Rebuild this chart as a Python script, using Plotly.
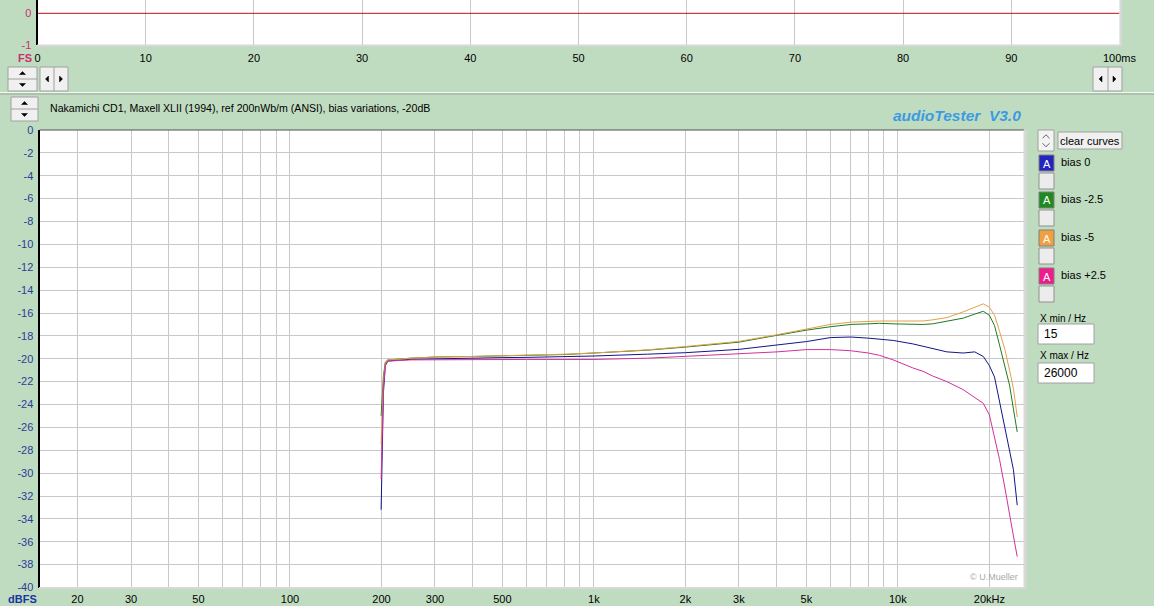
import math
import plotly.graph_objects as go

# ---------------- data ----------------
freq_hz = [199.5, 201, 203, 206, 210, 250, 300, 400, 500, 600, 700, 800, 1000, 1500,
           2000, 3000, 4000, 5000, 6000, 7000, 8000, 8700, 9650, 11200, 12100, 13000,
           14500, 16400, 17900, 19100, 20000, 20800, 21600, 22500, 23300, 24000, 24700]

bias_0 = [-33.2, -29.0, -23.0, -20.6, -20.2, -20.05, -20.0, -19.95, -19.9, -19.88, -19.85,
          -19.82, -19.76, -19.6, -19.47, -19.18, -18.8, -18.5, -18.15, -18.1, -18.2, -18.3,
          -18.4, -18.7, -18.9, -19.15, -19.4, -19.5, -19.4, -19.8, -20.6, -21.6, -23.8,
          -25.9, -27.9, -29.7, -32.8]

bias_m2_5 = [-25.0, -23.5, -21.5, -20.3, -20.1, -19.95, -19.85, -19.8, -19.75, -19.72, -19.68,
             -19.63, -19.5, -19.25, -18.98, -18.55, -17.95, -17.5, -17.2, -17.0, -16.95, -16.9,
             -16.95, -17.0, -17.0, -16.95, -16.7, -16.45, -16.1, -15.85, -16.2, -17.1, -18.8,
             -20.6, -22.3, -24.4, -26.4]

bias_m5 = [-27.5, -25.0, -22.0, -20.3, -20.1, -19.95, -19.85, -19.8, -19.75, -19.7, -19.65,
           -19.6, -19.5, -19.22, -18.93, -18.48, -17.9, -17.4, -17.0, -16.8, -16.7, -16.7,
           -16.7, -16.7, -16.7, -16.6, -16.4, -15.9, -15.5, -15.2, -15.5, -16.2, -17.6,
           -19.2, -21.0, -22.6, -25.1]

bias_p2_5 = [-30.5, -27.0, -22.5, -20.5, -20.2, -20.1, -20.08, -20.07, -20.06, -20.06, -20.06,
             -20.06, -20.06, -19.95, -19.8, -19.6, -19.4, -19.2, -19.2, -19.3, -19.5, -19.7,
             -20.1, -20.8, -21.1, -21.5, -22.0, -22.7, -23.4, -23.9, -24.9, -26.9, -28.8,
             -31.3, -33.7, -35.5, -37.3]

series_names = ["bias 0", "bias -2.5", "bias -5", "bias +2.5"]

grid_freqs = [20, 30, 40, 50, 60, 70, 80, 90, 100, 200, 300, 400, 500, 600, 700, 800, 900,
              1000, 2000, 3000, 4000, 5000, 6000, 7000, 8000, 9000, 10000, 20000]
grid_labels = ["20", "30", "", "50", "", "", "", "", "100", "200", "300", "", "500", "", "",
               "", "", "1k", "2k", "3k", "", "5k", "", "", "", "", "10k", "20kHz"]

db_ticks = list(range(0, -41, -2))
db_labels = [str(v) for v in db_ticks]

top_time_ms = [0, 100]
top_level = [0, 0]
top_ticks = [0, 10, 20, 30, 40, 50, 60, 70, 80, 90, 100]
top_labels = ["0", "10", "20", "30", "40", "50", "60", "70", "80", "90", "100ms"]

x_min_hz = 15
x_max_hz = 26000

# ---------------- layout helpers ----------------
W, H = 1154, 606
BG = "#c0dcc0"
FONT = "Liberation Sans"


def X(p):
    return p / W


def Y(p):
    return 1 - p / H


colors = ["#14148c", "#1f7a1f", "#e4a048", "#d2309a"]
box_colors = ["#2424c0", "#208a20", "#f0a040", "#ee1c8c"]

fig = go.Figure()
for name, vals, col in zip(series_names, [bias_0, bias_m2_5, bias_m5, bias_p2_5], colors):
    fig.add_trace(go.Scatter(x=freq_hz, y=vals, mode="lines", name=name,
                             line=dict(color=col, width=1), xaxis="x", yaxis="y",
                             showlegend=False, hoverinfo="skip"))

fig.add_trace(go.Scatter(x=top_time_ms, y=top_level, mode="lines",
                         line=dict(color="#c01010", width=1), xaxis="x2", yaxis="y2",
                         showlegend=False, hoverinfo="skip"))

shapes = []
annotations = []


def line(x0, y0, x1, y1, color, width=1):
    shapes.append(dict(type="line", xref="paper", yref="paper", x0=X(x0), y0=Y(y0),
                       x1=X(x1), y1=Y(y1), line=dict(color=color, width=width), layer="above"))


def rect(x0, y0, x1, y1, fill, border="#a0a0a0", width=1):
    shapes.append(dict(type="rect", xref="paper", yref="paper", x0=X(x0), y0=Y(y0),
                       x1=X(x1), y1=Y(y1), fillcolor=fill,
                       line=dict(color=border, width=width), layer="above"))


def tri(cx, cy, direction, s=3):
    if direction == "up":
        pts = [(cx - s, cy + s / 2), (cx + s, cy + s / 2), (cx, cy - s / 2)]
    elif direction == "down":
        pts = [(cx - s, cy - s / 2), (cx + s, cy - s / 2), (cx, cy + s / 2)]
    elif direction == "left":
        pts = [(cx + s / 2, cy - s), (cx + s / 2, cy + s), (cx - s / 2, cy)]
    else:
        pts = [(cx - s / 2, cy - s), (cx - s / 2, cy + s), (cx + s / 2, cy)]
    path = "M " + " L ".join(f"{X(a):.5f},{Y(b):.5f}" for a, b in pts) + " Z"
    shapes.append(dict(type="path", xref="paper", yref="paper", path=path,
                       fillcolor="#000000", line=dict(color="#000000", width=0.5), layer="above"))


def chevron(cx, cy, direction, s=3.5):
    d = -1 if direction == "up" else 1
    pts = [(cx - s, cy - d * s / 2), (cx, cy + d * s / 2), (cx + s, cy - d * s / 2)]
    path = "M " + " L ".join(f"{X(a):.5f},{Y(b):.5f}" for a, b in pts)
    shapes.append(dict(type="path", xref="paper", yref="paper", path=path,
                       line=dict(color="#606060", width=1), layer="above"))


def text(x, y, s, size=11, color="#000000", anchor="left", family=FONT):
    annotations.append(dict(xref="paper", yref="paper", x=X(x), y=Y(y), text=s,
                            showarrow=False, xanchor=anchor, yanchor="middle",
                            font=dict(family=family, size=size, color=color)))


# plot borders
line(39.5, 130, 1024, 130, "#505050", 1)
line(1025, 130, 1025, 588, "#d8d8d8", 3)
line(39, 588, 1026, 588, "#d8d8d8", 2)
line(37, 45.5, 1121, 45.5, "#d8d8d8", 2)
line(1121, 0, 1121, 46, "#d8d8d8", 2)

# separator
line(0, 92.5, W, 92.5, "#f4f8f4", 1)
line(0, 94, W, 94, "#98a898", 1)

# buttons
rect(8, 67, 37, 91, "#f0f0f0")
line(8, 79, 37, 79, "#a0a0a0")
tri(22.5, 73, "up")
tri(22.5, 85, "down")
rect(40, 67, 68, 91, "#f0f0f0")
line(54, 67, 54, 91, "#a0a0a0")
tri(47, 79, "left")
tri(61, 79, "right")
rect(1093, 67, 1122, 91, "#f0f0f0")
line(1108, 67, 1108, 91, "#a0a0a0")
tri(1100.5, 79, "left")
tri(1114.5, 79, "right")
rect(11, 97, 38, 121, "#f0f0f0")
line(11, 109, 38, 109, "#a0a0a0")
tri(24.5, 103, "up")
tri(24.5, 115, "down")

# curve panel on the right
rect(1038, 130, 1054, 151, "#f4f4f4")
chevron(1046, 136.5, "up")
chevron(1046, 145, "down")
rect(1058, 132, 1122, 149, "#f0f0f0")
text(1090, 140.5, "clear curves", 11, anchor="center")

box_tops = [155, 192, 230, 268]
for top, bc, name in zip(box_tops, box_colors, series_names):
    rect(1039, top, 1054, top + 16, bc, "#808080")
    text(1046.5, top + 8.5, "A", 11, "#ffffff", anchor="center")
    text(1059, top + 7, name, 11)
    rect(1039, top + 18, 1054, top + 34, "#ececec", "#909090")

text(1038, 318, "X min / Hz", 10)
rect(1038, 324, 1094, 344, "#ffffff", "#a0a0a0")
text(1042, 334, str(x_min_hz), 12)
text(1038, 355, "X max / Hz", 10)
rect(1038, 363, 1094, 383, "#ffffff", "#a0a0a0")
text(1042, 373, str(x_max_hz), 12)

# text labels
text(48, 108, "Nakamichi CD1, Maxell XLII (1994), ref 200nWb/m (ANSI), bias variations, -20dB", 10.6)
text(1023, 115, "<b><i>audioTester  V3.0</i></b>", 15.5, "#3c9be0", anchor="right")
text(25, 58, "<b>FS</b>", 11, "#c8306a", anchor="center")
text(22, 599, "<b>dBFS</b>", 11, "#1a34a0", anchor="center")
text(1020, 577, "© U.Mueller", 9, "#a8a8a8", anchor="right")

fig.update_layout(
    template="none",
    width=W, height=H, autosize=False,
    margin=dict(l=0, r=0, t=0, b=0, pad=0),
    paper_bgcolor=BG, plot_bgcolor="#ffffff",
    font=dict(family=FONT, size=11, color="#000000"),
    showlegend=False,
    shapes=shapes, annotations=annotations,
    xaxis=dict(type="log", range=[math.log10(x_min_hz), math.log10(x_max_hz)],
               domain=[X(39.5), X(1024)], anchor="y", automargin=False,
               tickmode="array", tickvals=grid_freqs, ticktext=grid_labels,
               showgrid=True, gridcolor="#c8c8c8", gridwidth=1, zeroline=False,
               ticks="outside", ticklen=1, tickcolor="rgba(0,0,0,0)",
               tickfont=dict(family=FONT, size=11, color="#000000"), showline=False),
    yaxis=dict(range=[-40, 0], domain=[Y(587.5), Y(130)], anchor="x", automargin=False,
               tickmode="array", tickvals=db_ticks, ticktext=db_labels,
               showgrid=True, gridcolor="#c8c8c8", gridwidth=1, zeroline=False,
               ticks="outside", ticklen=2, tickcolor="rgba(0,0,0,0)",
               tickfont=dict(family=FONT, size=11, color="#2a3c9c"),
               showline=True, linecolor="#000000", linewidth=2),
    xaxis2=dict(range=[0, 100], domain=[X(37.5), X(1119.5)], anchor="y2", automargin=False,
                tickmode="array", tickvals=top_ticks, ticktext=top_labels,
                showgrid=True, gridcolor="#c8c8c8", gridwidth=1, zeroline=False,
                ticks="outside", ticklen=3, tickcolor="rgba(0,0,0,0)",
                tickfont=dict(family=FONT, size=11, color="#000000"), showline=False),
    yaxis2=dict(range=[-1, 0.42], domain=[Y(45), 1], anchor="x2", automargin=False,
                tickmode="array", tickvals=[0, -1], ticktext=["0", "-1"],
                showgrid=False, zeroline=False,
                ticks="outside", ticklen=2, tickcolor="rgba(0,0,0,0)",
                tickfont=dict(family=FONT, size=11, color="#c8306a"),
                showline=True, linecolor="#000000", linewidth=2),
)

fig.write_html(
    "out.html",
    config={"displayModeBar": False},
    post_script="document.body.style.margin='0';document.body.style.padding='0';"
                "document.body.style.overflow='hidden';"
                "document.body.style.background='" + BG + "';",
)
